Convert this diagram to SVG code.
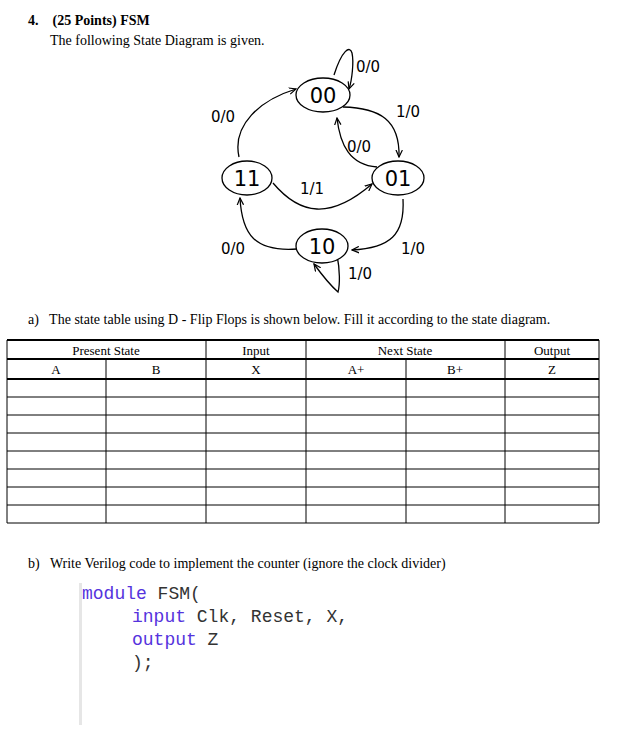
<svg xmlns="http://www.w3.org/2000/svg" width="619" height="733" viewBox="0 0 619 733" xml:space="preserve">
<style>
.t{font-family:"Liberation Serif",serif;font-size:14px;fill:#000;white-space:pre}
.s{font-family:"DejaVu Sans",sans-serif;font-size:15px;fill:#000}
.n{font-family:"DejaVu Sans",sans-serif;font-size:21px;fill:#000;text-anchor:middle}
.st{fill:#fff;stroke:#000;stroke-width:1.3}
.e{fill:none;stroke:#000;stroke-width:1.3;marker-end:url(#a)}
.g{stroke:#000;stroke-width:1}
.gb{stroke:#000;stroke-width:2}
.c{font-family:"Liberation Mono","Courier New","DejaVu Sans Mono",monospace;font-size:18px;white-space:pre}
.k{fill:#5533dd}
.i{fill:#333}
.h{font-family:"Liberation Serif",serif;font-size:13px;text-anchor:middle}
</style>
<defs><marker id="a" markerWidth="8" markerHeight="8" refX="7" refY="4" orient="auto" markerUnits="userSpaceOnUse"><path d="M0,0.8 L7,4 L0,7.2" fill="none" stroke="#000" stroke-width="1.2"/></marker></defs>
<text class="t" x="28" y="25" font-weight="bold">4.    (25 Points) FSM</text>
<text class="t" x="50" y="45">The following State Diagram is given.</text>
<g id="connectors">
<path class="e" d="M334,75 C342,50 350,45 352,53 C354,62 352,80 349,89"/>
<path class="e" d="M239,157 C232,125 260,100 296,89"/>
<path class="e" d="M343,107 C380,108 400,120 399,157"/>
<path class="e" d="M377,167 C350,165 340,145 337,118"/>
<path class="e" d="M273,183 C300,215 330,220 372,184"/>
<path class="e" d="M403,199 C405,235 390,248 352,250"/>
<path class="e" d="M297,249 C255,252 242,235 240,198"/>
<path class="e" d="M337,255 C340,270 340,285 338,292 C330,285 322,275 314,264"/>
</g>
<g id="n00"><ellipse class="st" cx="323" cy="95" rx="27" ry="17"/><text class="n" x="323" y="103">00</text></g>
<g id="n11"><ellipse class="st" cx="247" cy="178" rx="25" ry="17"/><text class="n" x="247" y="186">11</text></g>
<g id="n01"><ellipse class="st" cx="398" cy="178" rx="26" ry="17"/><text class="n" x="398" y="186">01</text></g>
<g id="n10"><ellipse class="st" cx="322" cy="246" rx="26" ry="17"/><text class="n" x="322" y="254">10</text></g>
<g id="labels">
<text class="s" x="356" y="72">0/0</text>
<text class="s" x="211" y="122">0/0</text>
<text class="s" x="396" y="117">1/0</text>
<text class="s" x="347" y="152">0/0</text>
<text class="s" x="300" y="194">1/1</text>
<text class="s" x="221" y="254">0/0</text>
<text class="s" x="401" y="254">1/0</text>
<text class="s" x="348" y="279">1/0</text>
</g>
<text class="t" x="28" y="324">a)   The state table using D - Flip Flops is shown below. Fill it according to the state diagram.</text>
<g id="table">
<line class="gb" x1="7" y1="340" x2="599" y2="340"/>
<line class="gb" x1="7" y1="359" x2="599" y2="359"/>
<line class="gb" x1="7" y1="379" x2="599" y2="379"/>
<line class="g" x1="7" y1="397" x2="599" y2="397"/>
<line class="g" x1="7" y1="415" x2="599" y2="415"/>
<line class="g" x1="7" y1="433" x2="599" y2="433"/>
<line class="g" x1="7" y1="451" x2="599" y2="451"/>
<line class="g" x1="7" y1="469" x2="599" y2="469"/>
<line class="g" x1="7" y1="487" x2="599" y2="487"/>
<line class="g" x1="7" y1="505" x2="599" y2="505"/>
<line class="g" x1="7" y1="523" x2="599" y2="523"/>
<line class="g" x1="7" y1="340" x2="7" y2="523"/>
<line class="g" x1="599" y1="340" x2="599" y2="523"/>
<line class="g" x1="206" y1="340" x2="206" y2="523"/>
<line class="g" x1="306" y1="340" x2="306" y2="523"/>
<line class="g" x1="505" y1="340" x2="505" y2="523"/>
<line class="g" x1="106" y1="359" x2="106" y2="523"/>
<line class="g" x1="406" y1="359" x2="406" y2="523"/>
<text class="h" x="106" y="355">Present State</text>
<text class="h" x="256" y="355">Input</text>
<text class="h" x="405" y="355">Next State</text>
<text class="h" x="552" y="355">Output</text>
<text class="h" x="56" y="374">A</text>
<text class="h" x="156" y="374">B</text>
<text class="h" x="256" y="374">X</text>
<text class="h" x="356" y="374">A+</text>
<text class="h" x="455" y="374">B+</text>
<text class="h" x="552" y="374">Z</text>
</g>
<text class="t" x="28" y="568">b)   Write Verilog code to implement the counter (ignore the clock divider)</text>
<rect x="79" y="583" width="3" height="142" fill="#e6e6e6"/>
<text class="c" x="82" y="599"><tspan class="k">module</tspan><tspan class="i"> FSM(</tspan></text>
<text class="c" x="132" y="622"><tspan class="k">input</tspan><tspan class="i"> Clk, Reset, X,</tspan></text>
<text class="c" x="132" y="645"><tspan class="k">output</tspan><tspan class="i"> Z</tspan></text>
<text class="c i" x="132" y="668">);</text>
</svg>
